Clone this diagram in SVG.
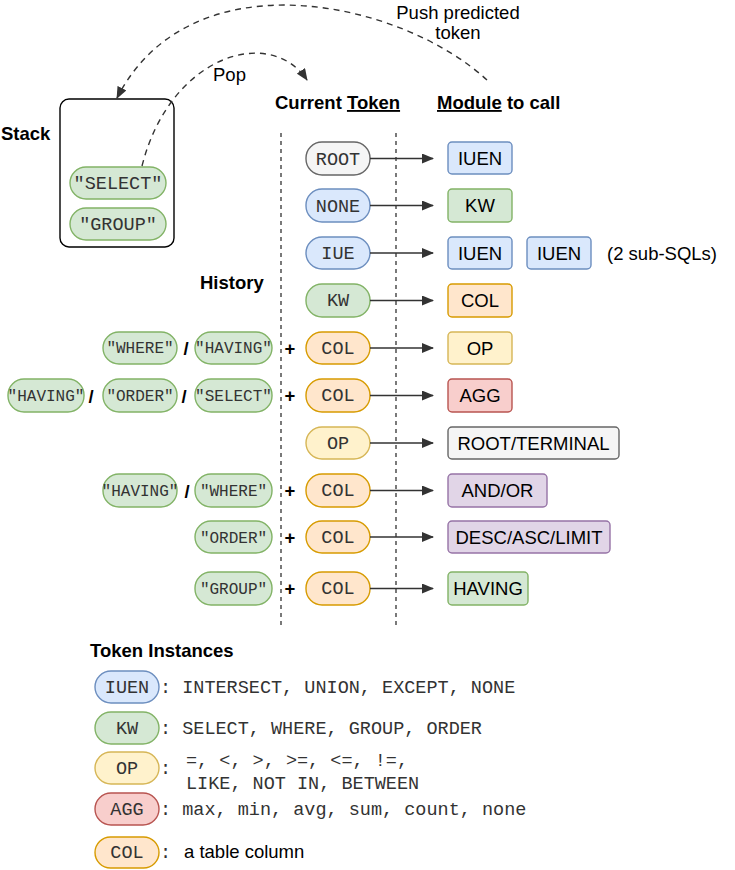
<svg xmlns="http://www.w3.org/2000/svg" width="735" height="870" viewBox="0 0 735 870">
<defs>
<style>
.mono{font-family:"Liberation Mono","Courier New",monospace;font-size:18.5px;fill:#333;text-anchor:middle}
.hm{font-size:16px}
.lt{text-anchor:start}
.sans{font-family:"Liberation Sans",Arial,sans-serif;font-size:18.5px;fill:#000}
.mid{text-anchor:middle}
.b{font-weight:bold}
.pill{stroke-width:1.4}
.box{stroke-width:1.4}
.blue{fill:#dae8fc;stroke:#6c8ebf}
.green{fill:#d5e8d4;stroke:#82b366}
.orange{fill:#ffe6cc;stroke:#d79b00}
.yellow{fill:#fff2cc;stroke:#d6b656}
.red{fill:#f8cecc;stroke:#b85450}
.purple{fill:#e1d5e7;stroke:#9673a6}
.grey{fill:#f5f5f5;stroke:#666}
.arr{stroke:#333;stroke-width:1.4;fill:none;marker-end:url(#ah)}
.dash{stroke:#333;stroke-width:1.4;fill:none;stroke-dasharray:6 5;marker-end:url(#ah)}
.vl{stroke:#333;stroke-width:1.3;stroke-dasharray:4 4}
</style>
<marker id="ah" viewBox="0 0 12 10" refX="11" refY="5" markerWidth="12" markerHeight="10" markerUnits="userSpaceOnUse" orient="auto">
<path d="M0,0 L12,5 L0,10 Z" fill="#333"/>
</marker>
</defs>
<rect width="735" height="870" fill="#fff"/>

<!-- labels -->
<g id="labels">
<text class="sans b" x="1" y="140">Stack</text>
<text class="sans" x="213" y="81">Pop</text>
<text class="sans mid" x="458" y="19">Push predicted</text>
<text class="sans mid" x="458" y="39">token</text>
<text class="sans b" x="275" y="109">Current <tspan text-decoration="underline">Token</tspan></text>
<text class="sans b" x="437" y="109"><tspan text-decoration="underline">Module</tspan> to call</text>
<text class="sans b" x="200" y="289">History</text>
<text class="sans" x="607" y="260">(2 sub-SQLs)</text>
<text class="sans b" x="90" y="657">Token Instances</text>
</g>

<!-- dashed column separators -->
<g id="separators">
<line class="vl" x1="281" y1="133" x2="281" y2="625"/>
<line class="vl" x1="396" y1="133" x2="396" y2="625"/>
</g>

<!-- stack -->
<g id="stack">
<rect x="60" y="99" width="114" height="148" rx="9" fill="none" stroke="#000" stroke-width="1.4"/>
<g id="stack-select"><rect class="pill green" x="70" y="167" width="96" height="32" rx="16"/><text class="mono" x="118" y="189">"SELECT"</text></g>
<g id="stack-group"><rect class="pill green" x="70" y="208" width="96" height="32" rx="16"/><text class="mono" x="118" y="230">"GROUP"</text></g>
</g>

<!-- current tokens -->
<g id="current-tokens">
<g id="ct-root"><rect class="pill grey" x="306" y="142" width="64" height="33" rx="16"/><text class="mono" x="338" y="165">ROOT</text></g>
<g id="ct-none"><rect class="pill blue" x="306" y="189" width="64" height="33" rx="16"/><text class="mono" x="338" y="212">NONE</text></g>
<g id="ct-iue"><rect class="pill blue" x="306" y="237" width="64" height="32" rx="16"/><text class="mono" x="338" y="259">IUE</text></g>
<g id="ct-kw"><rect class="pill green" x="306" y="284" width="64" height="33" rx="16"/><text class="mono" x="338" y="306">KW</text></g>
<g id="ct-col1"><rect class="pill orange" x="306" y="332" width="64" height="32" rx="16"/><text class="mono" x="338" y="354">COL</text></g>
<g id="ct-col2"><rect class="pill orange" x="306" y="379" width="64" height="33" rx="16"/><text class="mono" x="338" y="401">COL</text></g>
<g id="ct-op"><rect class="pill yellow" x="306" y="427" width="64" height="32" rx="16"/><text class="mono" x="338" y="449">OP</text></g>
<g id="ct-col3"><rect class="pill orange" x="306" y="474" width="64" height="33" rx="16"/><text class="mono" x="338" y="496">COL</text></g>
<g id="ct-col4"><rect class="pill orange" x="306" y="521" width="64" height="32" rx="16"/><text class="mono" x="338" y="543">COL</text></g>
<g id="ct-col5"><rect class="pill orange" x="306" y="572" width="64" height="33" rx="16"/><text class="mono" x="338" y="594">COL</text></g>
</g>

<!-- modules -->
<g id="modules">
<g id="m-iuen1"><rect class="box blue" x="448" y="142" width="64" height="32" rx="4"/><text class="sans mid" x="480" y="165">IUEN</text></g>
<g id="m-kw"><rect class="box green" x="448" y="189" width="64" height="33" rx="4"/><text class="sans mid" x="480" y="212">KW</text></g>
<g id="m-iuen2"><rect class="box blue" x="448" y="237" width="64" height="32" rx="4"/><text class="sans mid" x="480" y="260">IUEN</text></g>
<g id="m-iuen3"><rect class="box blue" x="527" y="237" width="64" height="32" rx="4"/><text class="sans mid" x="559" y="260">IUEN</text></g>
<g id="m-col"><rect class="box orange" x="448" y="284" width="64" height="33" rx="4"/><text class="sans mid" x="480" y="307">COL</text></g>
<g id="m-op"><rect class="box yellow" x="448" y="332" width="64" height="32" rx="4"/><text class="sans mid" x="480" y="355">OP</text></g>
<g id="m-agg"><rect class="box red" x="448" y="379" width="64" height="33" rx="4"/><text class="sans mid" x="480" y="402">AGG</text></g>
<g id="m-root"><rect class="box grey" x="448" y="427" width="171" height="32" rx="4"/><text class="sans mid" x="533.5" y="450">ROOT/TERMINAL</text></g>
<g id="m-andor"><rect class="box purple" x="448" y="474" width="99" height="33" rx="4"/><text class="sans mid" x="497.5" y="497">AND/OR</text></g>
<g id="m-desc"><rect class="box purple" x="448" y="521" width="162" height="32" rx="4"/><text class="sans mid" x="529" y="544">DESC/ASC/LIMIT</text></g>
<g id="m-having"><rect class="box green" x="448" y="572" width="80" height="33" rx="4"/><text class="sans mid" x="488" y="595">HAVING</text></g>
</g>

<!-- history -->
<g id="history">
<g id="h1a"><rect class="pill green" x="103" y="332" width="74" height="32" rx="16"/><text class="mono hm" x="140" y="353">"WHERE"</text></g>
<text class="sans b mid" x="186" y="355" font-size="20">/</text>
<g id="h1b"><rect class="pill green" x="195" y="332" width="77" height="32" rx="16"/><text class="mono hm" x="233.5" y="353">"HAVING"</text></g>
<text class="sans b mid" x="290" y="355">+</text>

<g id="h2a"><rect class="pill green" x="8" y="379" width="76" height="33" rx="16"/><text class="mono hm" x="46" y="401">"HAVING"</text></g>
<text class="sans b mid" x="91" y="403" font-size="20">/</text>
<g id="h2b"><rect class="pill green" x="103" y="379" width="74" height="33" rx="16"/><text class="mono hm" x="140" y="401">"ORDER"</text></g>
<text class="sans b mid" x="184" y="403" font-size="20">/</text>
<g id="h2c"><rect class="pill green" x="195" y="379" width="77" height="33" rx="16"/><text class="mono hm" x="233.5" y="401">"SELECT"</text></g>
<text class="sans b mid" x="290" y="402">+</text>

<g id="h3a"><rect class="pill green" x="103" y="474" width="74" height="33" rx="16"/><text class="mono hm" x="140" y="496">"HAVING"</text></g>
<text class="sans b mid" x="187" y="498" font-size="20">/</text>
<g id="h3b"><rect class="pill green" x="195" y="474" width="77" height="33" rx="16"/><text class="mono hm" x="233.5" y="496">"WHERE"</text></g>
<text class="sans b mid" x="290" y="497">+</text>

<g id="h4"><rect class="pill green" x="195" y="521" width="77" height="32" rx="16"/><text class="mono hm" x="233.5" y="543">"ORDER"</text></g>
<text class="sans b mid" x="290" y="544">+</text>

<g id="h5"><rect class="pill green" x="195" y="572" width="77" height="33" rx="16"/><text class="mono hm" x="233.5" y="594">"GROUP"</text></g>
<text class="sans b mid" x="290" y="595">+</text>
</g>

<!-- connectors -->
<g id="connectors">
<path class="arr" d="M370,158.5 H433"/>
<path class="arr" d="M370,205.5 H433"/>
<path class="arr" d="M370,253 H433"/>
<path class="arr" d="M370,300.5 H433"/>
<path class="arr" d="M370,348 H433"/>
<path class="arr" d="M370,395.5 H433"/>
<path class="arr" d="M370,443 H433"/>
<path class="arr" d="M370,490.5 H433"/>
<path class="arr" d="M370,537 H433"/>
<path class="arr" d="M370,588.5 H433"/>
<path class="dash" d="M142,166 C170,55 270,25 307,80"/>
<path class="dash" d="M487,80 C400,0 190,-45 117,98"/>
</g>

<!-- legend -->
<g id="legend">
<g id="lg-iuen"><rect class="pill blue" x="95" y="671" width="64" height="32" rx="16"/><text class="mono" x="127" y="693">IUEN</text><text class="mono lt" x="160" y="693">: INTERSECT, UNION, EXCEPT, NONE</text></g>
<g id="lg-kw"><rect class="pill green" x="95" y="712" width="64" height="32" rx="16"/><text class="mono" x="127" y="734">KW</text><text class="mono lt" x="160" y="734">: SELECT, WHERE, GROUP, ORDER</text></g>
<g id="lg-op"><rect class="pill yellow" x="95" y="752" width="64" height="32" rx="16"/><text class="mono" x="127" y="774">OP</text><text class="mono lt" x="160" y="774">:</text><text class="mono lt" x="186" y="766">=, &lt;, &gt;, &gt;=, &lt;=, !=,</text><text class="mono lt" x="186" y="789">LIKE, NOT IN, BETWEEN</text></g>
<g id="lg-agg"><rect class="pill red" x="95" y="793" width="64" height="32" rx="16"/><text class="mono" x="127" y="815">AGG</text><text class="mono lt" x="160" y="815">: max, min, avg, sum, count, none</text></g>
<g id="lg-col"><rect class="pill orange" x="95" y="837" width="64" height="31" rx="15.5"/><text class="mono" x="127" y="858">COL</text><text class="mono lt" x="160" y="858">:</text><text class="sans" x="184" y="858">a table column</text></g>
</g>
</svg>
